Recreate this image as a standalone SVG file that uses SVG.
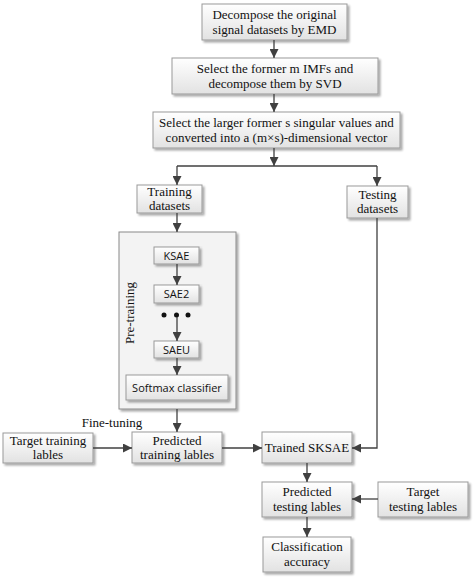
<svg xmlns="http://www.w3.org/2000/svg" width="474" height="578" viewBox="0 0 474 578">
<defs>
<linearGradient id="g" x1="0" y1="0" x2="0" y2="1">
<stop offset="0" stop-color="#ffffff"/>
<stop offset="1" stop-color="#e2e2e2"/>
</linearGradient>
<filter id="sh" x="-10%" y="-10%" width="130%" height="140%">
<feGaussianBlur in="SourceAlpha" stdDeviation="1"/>
<feOffset dx="1.5" dy="1.5" result="o"/>
<feComponentTransfer><feFuncA type="linear" slope="0.35"/></feComponentTransfer>
<feMerge><feMergeNode/><feMergeNode in="SourceGraphic"/></feMerge>
</filter>
<marker id="ah" viewBox="0 0 10 10" refX="10" refY="5" markerWidth="9" markerHeight="9" markerUnits="userSpaceOnUse" orient="auto">
<path d="M0,0 L10,5 L0,10 z" fill="#404040"/>
</marker>
</defs>
<style>
.box{fill:url(#g);stroke:#999;stroke-width:1;filter:url(#sh)}
.outer{fill:#f3f3f3;stroke:#8a8a8a;stroke-width:1;filter:url(#sh)}
.t{font-family:"Liberation Serif","Times New Roman",serif;font-size:13px;fill:#111;text-anchor:middle}
.s{font-family:"Open Sans","Liberation Sans",sans-serif;font-size:11px;fill:#111;text-anchor:middle}
.c{fill:none;stroke:#404040;stroke-width:1.3}
.a{marker-end:url(#ah)}
</style>
<g id="n1"><rect class="box" x="202" y="4" width="145" height="36"/><text class="t" x="274.5" y="19">Decompose the original</text><text class="t" x="274.5" y="34">signal datasets by EMD</text></g>
<g id="n2"><rect class="box" x="172" y="58" width="206" height="36"/><text class="t" x="275" y="73">Select the former m IMFs and</text><text class="t" x="275" y="88">decompose them by SVD</text></g>
<g id="n3"><rect class="box" x="153" y="112" width="247" height="36"/><text class="t" x="276.5" y="127">Select the larger former s singular values and</text><text class="t" x="276.5" y="142">converted into a (m×s)-dimensional vector</text></g>
<g id="training"><rect class="box" x="137" y="185" width="65" height="28"/><text class="t" x="169.5" y="196">Training</text><text class="t" x="169.5" y="210">datasets</text></g>
<g id="testing"><rect class="box" x="347" y="186" width="61" height="32"/><text class="t" x="377.5" y="199">Testing</text><text class="t" x="377.5" y="213">datasets</text></g>
<g id="pretraining"><rect class="outer" x="119" y="232" width="117" height="177"/><text class="t" transform="translate(134,313) rotate(-90)" x="0" y="0">Pre-training</text></g>
<g id="ksae"><rect class="box" x="154" y="247" width="45" height="17"/><text class="s" x="176.5" y="259.5">KSAE</text></g>
<g id="sae2"><rect class="box" x="154" y="285" width="45" height="18"/><text class="s" x="176.5" y="298">SAE2</text></g>
<g id="dots"><circle cx="164" cy="315" r="2.5" fill="#111"/><circle cx="176.5" cy="315" r="2.5" fill="#111"/><circle cx="188" cy="315" r="2.5" fill="#111"/></g>
<g id="saeu"><rect class="box" x="154" y="341" width="45" height="17"/><text class="s" x="176.5" y="353.5">SAEU</text></g>
<g id="softmax"><rect class="box" x="126" y="375" width="102" height="25"/><text class="s" x="177" y="391.5">Softmax classifier</text></g>
<g id="finetuning"><text class="t" x="112" y="427">Fine-tuning</text></g>
<g id="targettrain"><rect class="box" x="3" y="433" width="90" height="30"/><text class="t" x="48" y="445">Target training</text><text class="t" x="48" y="459">lables</text></g>
<g id="predtrain"><rect class="box" x="132" y="432" width="90" height="31"/><text class="t" x="177" y="445">Predicted</text><text class="t" x="177" y="459">training lables</text></g>
<g id="trained"><rect class="box" x="262" y="432" width="90" height="31"/><text class="t" x="307" y="452">Trained SKSAE</text></g>
<g id="predtest"><rect class="box" x="262" y="482" width="90" height="35"/><text class="t" x="307" y="496">Predicted</text><text class="t" x="307" y="511">testing lables</text></g>
<g id="targettest"><rect class="box" x="378" y="482" width="90" height="35"/><text class="t" x="423" y="496">Target</text><text class="t" x="423" y="511">testing lables</text></g>
<g id="accuracy"><rect class="box" x="263" y="537" width="88" height="35"/><text class="t" x="307" y="551">Classification</text><text class="t" x="307" y="566">accuracy</text></g>
<g id="connectors">
<line class="c a" x1="274" y1="40" x2="274" y2="58"/>
<line class="c a" x1="274" y1="94" x2="274" y2="112"/>
<line class="c a" x1="274" y1="148" x2="274" y2="166"/>
<line class="c" x1="177" y1="166" x2="377" y2="166"/>
<line class="c a" x1="177" y1="166" x2="177" y2="185"/>
<line class="c a" x1="377" y1="166" x2="377" y2="186"/>
<line class="c a" x1="177" y1="213" x2="177" y2="232"/>
<line class="c a" x1="177" y1="264" x2="177" y2="285"/>
<line class="c a" x1="177" y1="317" x2="177" y2="341"/>
<line class="c a" x1="177" y1="358" x2="177" y2="375"/>
<line class="c a" x1="177" y1="409" x2="177" y2="432"/>
<line class="c a" x1="93" y1="448" x2="132" y2="448"/>
<line class="c a" x1="222" y1="448" x2="262" y2="448"/>
<polyline class="c a" points="377,218 377,448 352,448"/>
<line class="c a" x1="307" y1="463" x2="307" y2="482"/>
<line class="c a" x1="378" y1="499" x2="352" y2="499"/>
<line class="c a" x1="307" y1="517" x2="307" y2="537"/>
</g>
</svg>
